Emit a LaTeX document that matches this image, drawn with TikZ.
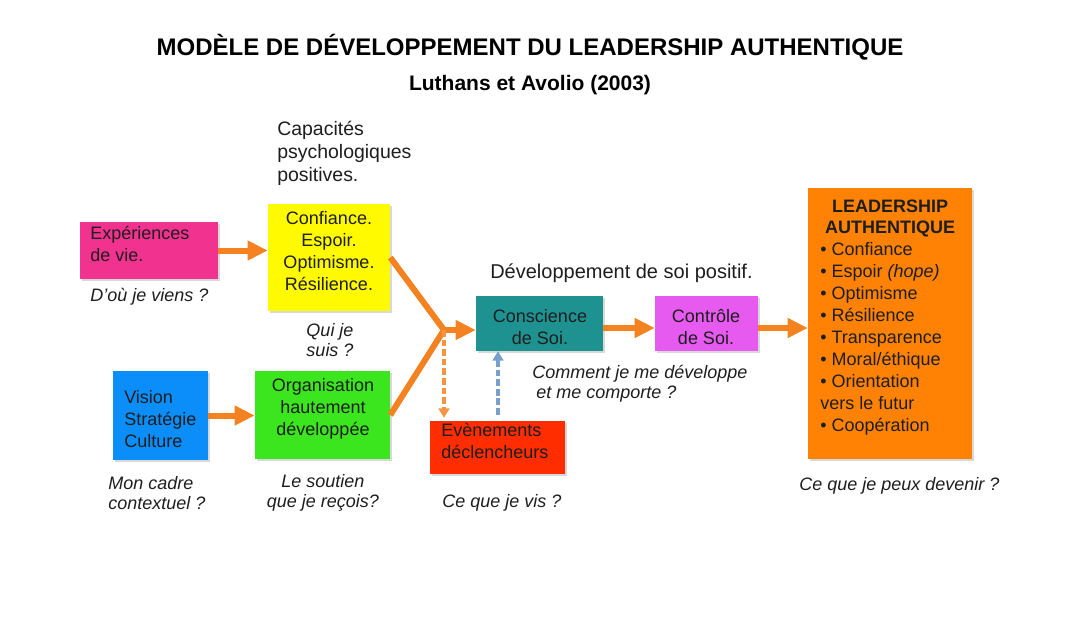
\documentclass[tikz,border=0pt]{standalone}
\usepackage{fontspec}
\setmainfont{Liberation Sans}
\usetikzlibrary{arrows.meta,fit,shadows}
\definecolor{cmag}{RGB}{242,50,143}
\definecolor{cyel}{RGB}{255,250,0}
\definecolor{cblu}{RGB}{12,142,250}
\definecolor{cgrn}{RGB}{60,230,30}
\definecolor{cred}{RGB}{255,45,0}
\definecolor{cteal}{RGB}{30,145,145}
\definecolor{cvio}{RGB}{230,90,240}
\definecolor{corg}{RGB}{255,130,5}
\definecolor{carr}{RGB}{245,130,32}
\definecolor{cdash}{RGB}{120,160,205}
\definecolor{ctxt}{RGB}{30,30,30}
\begin{document}
\begin{tikzpicture}[x=0.75pt,y=-0.75pt,
  box/.style={inner sep=0pt, draw=none, drop shadow={shadow xshift=1.2pt, shadow yshift=-1.2pt, opacity=0.3}},
  txt/.style={inner sep=0pt, text=ctxt, font=\fontsize{13.5}{16.5}\selectfont},
  itxt/.style={inner sep=0pt, text=ctxt, font=\fontsize{13.5}{15}\selectfont\itshape},
  flow/.style={draw=carr, line width=4.5pt, -{Triangle[length=15pt,width=14pt]}},
  odash/.style={draw=carr!85, line width=2.6pt, dash pattern=on 5pt off 2.2pt, -{Triangle[length=7pt,width=8pt]}},
  bdash/.style={draw=cdash, line width=2.6pt, dash pattern=on 5pt off 2.2pt, -{Triangle[length=7pt,width=8pt]}}
]
\fill[white] (0,0) rectangle (1080,621);
\useasboundingbox (0,0) rectangle (1080,621);

% titles
\node[inner sep=0pt, text=black, font=\fontsize{18}{20}\selectfont\bfseries] (title) at (530,47) {MODÈLE DE DÉVELOPPEMENT DU LEADERSHIP AUTHENTIQUE};
\node[inner sep=0pt, text=black, font=\fontsize{15.75}{18}\selectfont\bfseries] (sub) at (530,85) {Luthans et Avolio (2003)};
\node[inner sep=0pt, text=ctxt, anchor=west, align=left, font=\fontsize{14.6}{17.25}\selectfont] (cap) at (277,153) {Capacités\\psychologiques\\positives.};
\node[inner sep=0pt, text=ctxt, anchor=west, font=\fontsize{15}{18}\selectfont] (dev) at (490,273) {Développement de soi positif.};

% boxes
\node[box, fill=cmag, fit={(80,222) (218,279)}] (exp) {};
\node[box, fill=cyel, fit={(268,204) (390,311)}] (conf) {};
\node[box, fill=cblu, fit={(113,371) (208,460)}] (vis) {};
\node[box, fill=cgrn, fit={(255,371) (390,459)}] (org) {};
\node[box, fill=cred, fit={(430,421) (565,474)}] (evt) {};
\node[box, fill=cteal, fit={(476,296) (603,351)}] (cons) {};
\node[box, fill=cvio, fit={(655,296) (758,351)}] (ctrl) {};
\node[box, fill=corg, fit={(808,188) (972,459)}] (lead) {};

% box texts
\node[txt, anchor=west, align=left] (expT) at (90,244) {Expériences\\de vie.};
\node[txt, align=center] (confT) at (329,251) {Confiance.\\Espoir.\\Optimisme.\\Résilience.};
\node[txt, anchor=west, align=left] (visT) at (124,419.5) {Vision\\Stratégie\\Culture};
\node[txt, align=center] (orgT) at (323,408.5) {Organisation\\hautement\\développée};
\node[txt, anchor=west, align=left] (evtT) at (441,441) {Evènements\\déclencheurs};
\node[txt, align=center] (consT) at (540,327) {Conscience\\de Soi.};
\node[txt, align=center] (ctrlT) at (706,327) {Contrôle\\de Soi.};
\node[txt, align=center, font=\fontsize{13.5}{16}\selectfont\bfseries] (leadH) at (890,218.5) {LEADERSHIP\\AUTHENTIQUE};
\node[txt, anchor=west, align=left] (leadL) at (820,338.5) {• Confiance\\• Espoir \textit{(hope)}\\• Optimisme\\• Résilience\\• Transparence\\• Moral/éthique\\• Orientation\\vers le futur\\• Coopération};

% questions
\node[itxt, anchor=west] (q1) at (90,297) {D'où je viens ?};
\node[itxt, align=center] (q2) at (330,340) {Qui je\\suis ?};
\node[itxt, anchor=west, align=left] (q3) at (108,493) {Mon cadre\\contextuel ?};
\node[itxt, align=center] (q4) at (323,493) {Le soutien\\que je reçois?};
\node[itxt, anchor=west] (q5) at (442,503) {Ce que je vis ?};
\node[itxt, anchor=west, align=left] (q6) at (532,383.5) {Comment je me développe\\\hspace*{3pt}et me comporte ?};
\node[itxt, anchor=west] (q7) at (799,486) {Ce que je peux devenir ?};

% connectors
\coordinate (j) at (444,330);
\coordinate (bx) at (498,0);
\draw[flow] (exp.east) -- (exp.east -| conf.west);
\draw[flow] (vis.east) -- (vis.east -| org.west);
\draw[draw=carr, line width=4.5pt, line join=round] (conf.east) -- (j) -- (org.east);
\draw[flow] (j) -- (j -| cons.west);
\draw[flow] (cons.east |- 0,328) -- (ctrl.west |- 0,328);
\draw[flow] (ctrl.east |- 0,328) -- (lead.west |- 0,328);
\draw[odash, shorten >=2.2pt] (j) -- (j |- evt.north);
\draw[bdash, shorten <=4.5pt] (evt.north -| bx) -- (cons.south -| bx);
\end{tikzpicture}
\end{document}
